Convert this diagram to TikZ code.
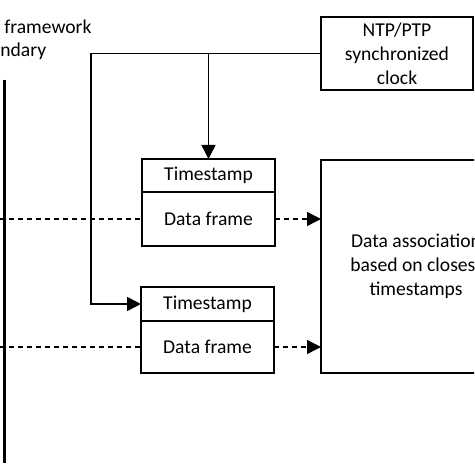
\documentclass[tikz,border=0pt]{standalone}
\usepackage{fontspec}
\setmainfont{Carlito}
\usetikzlibrary{arrows.meta}
\tikzset{
  blk/.style={draw, line width=1.25pt, inner sep=0pt, outer sep=0pt, align=center},
  lnk/.style={line width=0.75pt},
  dsh/.style={line width=0.75pt, dash pattern=on 2.5pt off 2pt},
}
\begin{document}
\begin{tikzpicture}[x=0.5pt,y=-0.5pt,>={Triangle[length=7pt,width=7pt]},
    font=\fontsize{9.8pt}{12pt}\selectfont]
    \useasboundingbox (0,0) rectangle (474,474);
    \clip (0,0) rectangle (474,474);
    % boundary
    \coordinate (btop) at (4,80);
    \coordinate (bbot) at (4,463);
    \draw[line width=1.5pt] (btop) -- (bbot);
    \node[anchor=base west, inner sep=0pt] (bnd1) at (4,34) {framework};
    \node[anchor=base west, inner sep=0pt] (bnd2) at (0,57) {ndary};
    % boxes
    \node[blk, minimum width=76pt, minimum height=36.5pt] (clock) at (397,53.5) {NTP/PTP\\synchronized\\clock};
    \node[blk, minimum width=66.5pt, minimum height=16.5pt] (ts1) at (208.5,175.5) {Timestamp};
    \node[blk, minimum width=66.5pt, minimum height=27pt, anchor=north] (df1) at (ts1.south) {Data frame};
    \node[blk, minimum width=66.5pt, minimum height=17pt] (ts2) at (207.5,304) {Timestamp};
    \node[blk, minimum width=66.5pt, minimum height=26pt, anchor=north] (df2) at (ts2.south) {Data frame};
    \node[blk, minimum width=95pt, minimum height=106.5pt] (assoc) at (416,266.5) {Data association\\based on closest\\timestamps};
    % clock lines
    \coordinate (tap) at (91,0);
    \draw[lnk,->] (clock.west) -- (clock.west -| tap) -- (tap |- ts2.west) -- (ts2.west);
    \draw[lnk,->] (ts1.north |- clock.west) -- (ts1.north);
    % data lines
    \coordinate (src1) at (0,219);
    \coordinate (src2) at (0,347);
    \draw[dsh] (src1) -- (df1.west);
    \draw[dsh,->] (df1.east) -- (df1.east -| assoc.west);
    \draw[dsh] (src2) -- (df2.west);
    \draw[dsh,->] (df2.east) -- (df2.east -| assoc.west);
\end{tikzpicture}
\end{document}
